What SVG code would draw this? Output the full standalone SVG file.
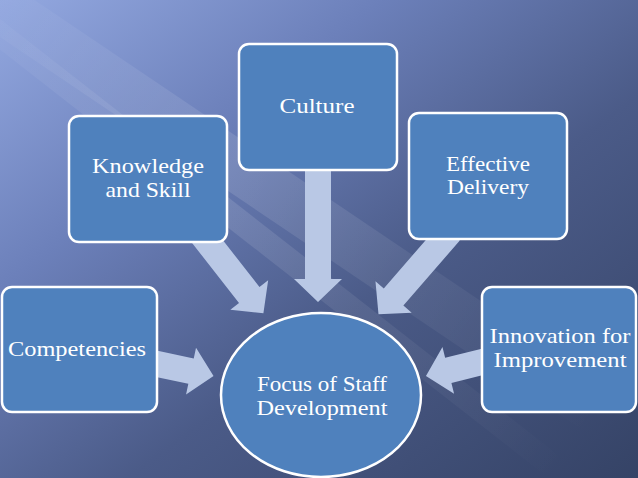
<svg xmlns="http://www.w3.org/2000/svg" width="638" height="478" viewBox="0 0 638 478">
<defs>
<linearGradient id="bg" x1="0" y1="0" x2="1" y2="1">
<stop offset="0" stop-color="#93a8e0"/>
<stop offset="0.3" stop-color="#6c80ba"/>
<stop offset="0.6" stop-color="#4b5b88"/>
<stop offset="1" stop-color="#354366"/>
</linearGradient>
<linearGradient id="streak" x1="0" y1="0" x2="1" y2="0">
<stop offset="0" stop-color="#ffffff" stop-opacity="0"/>
<stop offset="0.45" stop-color="#ffffff" stop-opacity="0.12"/>
<stop offset="1" stop-color="#ffffff" stop-opacity="0"/>
</linearGradient>
</defs>
<style>
.box{fill:#4f81bd;stroke:#ffffff;stroke-width:2.5}
.arrow{fill:#b9c8e5}
.t{font-family:"Liberation Serif","DejaVu Serif",serif;font-size:22px;fill:#ffffff;text-anchor:middle}
</style>
<rect width="638" height="478" fill="url(#bg)"/>
<g>
<rect x="-150" y="200" width="800" height="50" fill="url(#streak)" transform="rotate(34 319 239)"/>
<rect x="-150" y="262" width="800" height="24" fill="url(#streak)" transform="rotate(38 319 239)"/>
</g>
<g id="connectors">
<polygon class="arrow" points="0,-13 44,-13 44,-24 67,0 44,24 44,13 0,13" transform="translate(148,362) rotate(12)"/>
<polygon class="arrow" points="0,-13 80,-13 80,-24 103,0 80,24 80,13 0,13" transform="translate(200,232) rotate(52)"/>
<polygon class="arrow" points="0,-13 114,-13 114,-24 137,0 114,24 114,13 0,13" transform="translate(318,165) rotate(90)"/>
<polygon class="arrow" points="0,-13 86,-13 86,-24 109,0 86,24 86,13 0,13" transform="translate(450,232) rotate(131)"/>
<polygon class="arrow" points="0,-13 43,-13 43,-24 66,0 43,24 43,13 0,13" transform="translate(490,360) rotate(166)"/>
</g>
<g id="competencies">
<rect class="box" x="2" y="287" width="155" height="125" rx="10"/>
<text class="t" x="77" y="356" textLength="138" lengthAdjust="spacingAndGlyphs">Competencies</text>
</g>
<g id="knowledge">
<rect class="box" x="69" y="116" width="158" height="126" rx="10"/>
<text class="t" x="148" y="173" textLength="112" lengthAdjust="spacingAndGlyphs">Knowledge</text>
<text class="t" x="148" y="197" textLength="85" lengthAdjust="spacingAndGlyphs">and Skill</text>
</g>
<g id="culture">
<rect class="box" x="239" y="44" width="158" height="126" rx="10"/>
<text class="t" x="317" y="113" textLength="75" lengthAdjust="spacingAndGlyphs">Culture</text>
</g>
<g id="effective">
<rect class="box" x="409" y="113" width="158" height="126" rx="10"/>
<text class="t" x="488" y="171" textLength="84" lengthAdjust="spacingAndGlyphs">Effective</text>
<text class="t" x="488" y="194" textLength="82" lengthAdjust="spacingAndGlyphs">Delivery</text>
</g>
<g id="innovation">
<rect class="box" x="482" y="287" width="154" height="125" rx="10"/>
<text class="t" x="560" y="343" textLength="141" lengthAdjust="spacingAndGlyphs">Innovation for</text>
<text class="t" x="560" y="367" textLength="133" lengthAdjust="spacingAndGlyphs">Improvement</text>
</g>
<g id="focus">
<ellipse class="box" cx="321" cy="395" rx="100" ry="82"/>
<text class="t" x="322" y="391" textLength="130" lengthAdjust="spacingAndGlyphs">Focus of Staff</text>
<text class="t" x="322" y="415" textLength="131" lengthAdjust="spacingAndGlyphs">Development</text>
</g>
</svg>
